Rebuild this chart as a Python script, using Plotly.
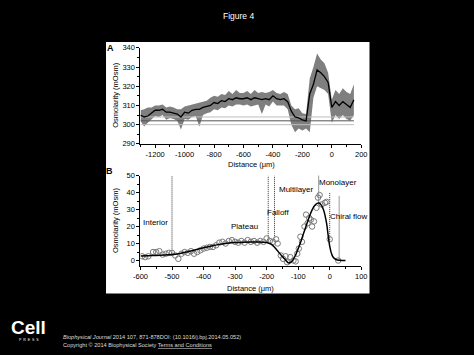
import plotly.graph_objects as go

W, H = 474, 355

# ---------------- Panel A data ----------------
a_x = [-1300, -1275, -1250, -1225, -1200, -1175, -1150, -1125, -1100, -1075,
       -1050, -1025, -1000, -975, -950, -925, -900, -875, -850, -825,
       -800, -775, -750, -725, -700, -675, -650, -625, -600, -575,
       -550, -525, -500, -475, -450, -425, -400, -375, -350, -325,
       -300, -275, -250, -225, -200, -175, -150, -125, -100, -75,
       -50, -25, 0, 25, 50, 75, 100, 125, 150]
a_mean = [305, 304, 304.5, 306, 307.5, 307.5, 308, 306.5, 306.5, 306,
          305.5, 304, 306.5, 306, 307.5, 308, 308, 309, 309.5, 310,
          311.5, 311, 312.5, 312, 313.5, 313, 314, 313.5, 313.5, 314,
          313, 314, 313.5, 313, 313.5, 313, 315, 313.5, 313, 313.5,
          312, 307, 304, 303.5, 302.5, 302, 316, 321, 328.5, 327,
          325, 322, 309, 312, 310, 312, 310.5, 309, 313]
a_upper = [307.5, 308, 309, 309, 310, 310, 310.5, 309, 309.5, 309,
           308, 308, 309.5, 310, 310.5, 311, 311.5, 312, 312.5, 314,
           315, 314.5, 316, 315.5, 317.5, 316, 318, 316.5, 316.5, 317.5,
           316, 318, 316.5, 317, 316.5, 317, 318, 316.5, 316, 317,
           316, 310, 308, 308.5, 306, 305.5, 324, 330, 337, 334,
           332, 327, 313, 318, 316, 319, 317, 316, 321]
a_lower = [302, 299, 301, 303, 304.5, 304, 305, 302.5, 303.5, 303,
           302, 297.5, 303, 302.5, 304, 304.5, 299, 305, 306, 306.5,
           308, 307.5, 309, 308.5, 310, 309.5, 310.5, 310.5, 310, 310.5,
           309.5, 310, 310.5, 305.5, 310.5, 309.5, 312, 310, 310, 310,
           308, 300, 296, 298, 297, 298, 296, 314, 320, 319,
           318, 316, 301, 305, 303, 305, 303, 302, 305]
a_ref_levels = [304, 300, 302]
a_ref_colors = ["#bdbdbd", "#bdbdbd", "#555555"]
a_xticks = [-1200, -1000, -800, -600, -400, -200, 0, 200]
a_xticktext = ["-1200", "-1000", "-800", "-600", "-400", "-200", "0", "200"]
a_yticks = [290, 300, 310, 320, 330, 340]

# ---------------- Panel B data ----------------
b_pts_x = [-595, -585, -575, -560, -550, -540, -530, -520, -510, -500,
           -490, -480, -470, -460, -450, -440, -430, -420, -410, -400,
           -390, -380, -370, -360, -350, -340, -330, -320, -310, -300,
           -290, -280, -270, -260, -250, -240, -230, -220, -210, -200,
           -190, -180, -170, -165, -155, -148, -140, -135, -125, -115,
           -108, -103, -98, -93, -88, -80, -75, -70, -65, -60,
           -56, -50, -42, -37, -32, -25, -15, -10, 0, 27]
b_pts_y = [2.5, 2, 2.5, 5, 5, 5.5, 3.5, 4, 4.5, 4.5,
           3, 1, 4, 5, 4.5, 5.5, 4, 5, 6, 7,
           7.5, 8, 8, 9, 10.5, 11, 10, 11.5, 12, 11,
           10.5, 11.5, 10.5, 12, 11, 11.5, 10.5, 11.5, 11, 13,
           11.5, 11, 12.5, 10, 3, 1, 2.5, -1, 2, 0,
           -0.5, 4, 7, 14, 11, 20, 27, 22, 25, 24,
           20, 23, 31, 37, 38.5, 33, 34, 34.5, 12.5, 0]
b_fit_x = [-600, -575, -550, -525, -500, -475, -450, -425, -400, -375,
           -350, -325, -300, -275, -250, -225, -200, -190, -180, -170,
           -160, -150, -140, -130, -120, -110, -100, -90, -80, -70,
           -60, -50, -40, -35, -30, -20, -10, -5, 0, 5,
           10, 20, 30, 40, 50]
b_fit_y = [2.7, 2.8, 3, 3.2, 3.5, 4.2, 5.2, 6.3, 7.5, 8.6,
           9.5, 10.2, 10.6, 10.8, 10.9, 10.9, 10.6, 10, 8.8, 6.8,
           4.5, 2.3, 0.3, -1.5, -0.5, 2.5, 7, 12, 17.5, 23,
           28, 31.8, 33.6, 33.8, 33.4, 30, 22, 15, 8.5, 4.5,
           2.2, 0.6, 0.1, 0, 0]
b_bound_x = [-500, -195, -175, -35, 0, 30]
b_bound_bottom = [3, 11, 11, 33, 12, 0]
b_bound_top = [50, 50, 50, 50, 40, 38]
b_region_names = ["Interior", "Plateau", "Falloff", "Multilayer", "Monolayer", "Chiral flow"]
b_region_x = [-552, -271, -163, -105, 26, 61]
b_region_y = [22.5, 20, 28, 41.5, 46, 26]
b_xticks = [-600, -500, -400, -300, -200, -100, 0, 100]
b_xticktext = ["-600", "-500", "-400", "-300", "-200", "-100", "0", "100"]
b_yticks = [0, 10, 20, 30, 40, 50]


def fx(p):
    return p / W


def fy(p):
    return 1 - p / H


FONT = "Liberation Sans, Arial, sans-serif"
fig = go.Figure()

# Panel A band
fig.add_trace(go.Scatter(x=a_x, y=a_upper, mode="lines", line=dict(width=0, color="#7f7f7f"),
                         xaxis="x", yaxis="y", hoverinfo="skip"))
fig.add_trace(go.Scatter(x=a_x, y=a_lower, mode="lines", line=dict(width=0, color="#7f7f7f"),
                         fill="tonexty", fillcolor="#7f7f7f", xaxis="x", yaxis="y", hoverinfo="skip"))
for lvl, col in zip(a_ref_levels, a_ref_colors):
    fig.add_trace(go.Scatter(x=[a_x[0], a_x[-1]], y=[lvl, lvl], mode="lines",
                             line=dict(width=1, color=col), xaxis="x", yaxis="y"))
fig.add_trace(go.Scatter(x=a_x, y=a_mean, mode="lines", line=dict(width=1.3, color="black"),
                         xaxis="x", yaxis="y"))

# Panel B
for bx, b0, b1 in zip(b_bound_x, b_bound_bottom, b_bound_top):
    fig.add_trace(go.Scatter(x=[bx, bx], y=[b0, b1], mode="lines",
                             line=dict(width=1, color="#333333", dash="1px,1px"), xaxis="x2", yaxis="y2"))
fig.add_trace(go.Scatter(x=b_pts_x, y=b_pts_y, mode="markers",
                         marker=dict(symbol="circle-open", size=5.5, color="#7a7a7a", line=dict(width=1)),
                         xaxis="x2", yaxis="y2"))
fig.add_trace(go.Scatter(x=b_fit_x, y=b_fit_y, mode="lines",
                         line=dict(width=1.5, color="black", shape="spline", smoothing=0.8),
                         xaxis="x2", yaxis="y2"))

axis_common = dict(showline=True, linecolor="black", linewidth=1, ticks="outside", ticklen=3,
                   tickwidth=1, tickcolor="black", showgrid=False, zeroline=False,
                   tickfont=dict(family=FONT, size=7.5, color="black"))

xdom = [fx(136.5), fx(364)]
fig.update_layout(
    width=W, height=H, margin=dict(l=0, r=0, t=0, b=0),
    paper_bgcolor="black", plot_bgcolor="white", showlegend=False,
    xaxis=dict(domain=xdom, anchor="y", range=[-1300, 200], tickvals=a_xticks, ticktext=a_xticktext,
               minor=dict(dtick=100, tick0=0, ticks="outside", ticklen=2, tickcolor="black"),
               **axis_common),
    yaxis=dict(domain=[fy(143.5), fy(45)], anchor="x", range=[290, 340], tickvals=a_yticks,
               minor=dict(dtick=5, tick0=0, ticks="outside", ticklen=2, tickcolor="black"),
               **axis_common),
    xaxis2=dict(domain=xdom, anchor="y2", range=[-600, 100], tickvals=b_xticks, ticktext=b_xticktext,
                minor=dict(dtick=50, tick0=0, ticks="outside", ticklen=2, tickcolor="black"),
                **axis_common),
    yaxis2=dict(domain=[fy(269.3), fy(176)], anchor="x2", range=[-3.5, 50], tickvals=b_yticks,
                minor=dict(dtick=5, tick0=0, ticks="outside", ticklen=2, tickcolor="black"),
                **axis_common),
)

# White panel behind both plots
fig.add_shape(type="rect", xref="paper", yref="paper", x0=fx(101), x1=fx(372.5), y0=fy(297), y1=fy(39),
              fillcolor="white", line=dict(width=0), layer="below")

ann = []


def text(x, y, s, size=8, color="black", angle=0, xref="paper", yref="paper", font=FONT):
    ann.append(dict(x=x, y=y, xref=xref, yref=yref, text=s, showarrow=False, xanchor="center",
                    yanchor="middle", textangle=angle, borderpad=0,
                    font=dict(family=font, size=size, color=color)))


text(fx(237), fy(12), "Figure 4", size=8.5, color="white")
text(fx(105.5), fy(45), "<b>A</b>", size=9)
text(fx(105), fy(171), "<b>B</b>", size=9)
text(fx(110.5), fy(94), "Osmolarity (mOsm)", size=7.5, angle=-90)
text(fx(111), fy(222), "Osmolarity (mOsm)", size=7.5, angle=-90)
text(fx(251), fy(164.5), "Distance (μm)", size=7.5)
text(fx(250), fy(292), "Distance (μm)", size=7.5)
for name, rx, ry in zip(b_region_names, b_region_x, b_region_y):
    text(rx, ry, name, size=8, xref="x2", yref="y2")

# Footer
text(fx(21.5), fy(332), "<b>Cell</b>", size=19, color="white")
text(fx(22), fy(345), "P  R  E  S  S", size=3.5, color="white")
text(fx(148), fy(342), "<i>Biophysical Journal</i> 2014 107, 871-878DOI: (10.1016/j.bpj.2014.05.052)",
     size=5.6, color="#dddddd")
text(fx(133), fy(349.5), "Copyright © 2014 Biophysical Society <span style='text-decoration:underline'>Terms and Conditions</span>",
     size=5.6, color="#dddddd")

fig.update_layout(annotations=ann)
fig.write_html("out.html", config={"displayModeBar": False},
               post_script="document.body.style.margin='0';document.body.style.background='black';")
